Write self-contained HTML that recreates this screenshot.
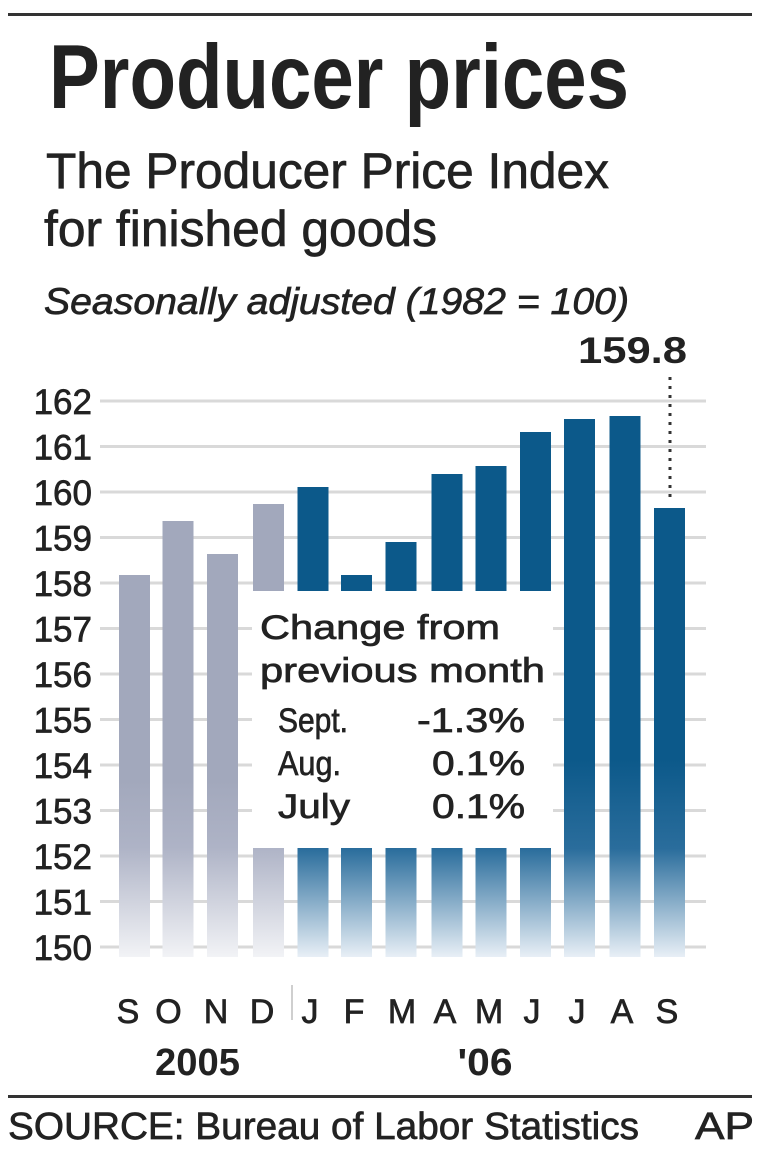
<!DOCTYPE html>
<html>
<head>
<meta charset="utf-8">
<style>
html,body{margin:0;padding:0;background:#fff;}
svg{display:block;}
text{font-family:"Liberation Sans",Arial,sans-serif;fill:#222;}
.w{stroke:#222;stroke-width:0.7px;}
</style>
</head>
<body>
<svg width="760" height="1159" viewBox="0 0 760 1159" xmlns="http://www.w3.org/2000/svg">
<defs>
  <linearGradient id="gBlue" gradientUnits="userSpaceOnUse" x1="0" y1="760" x2="0" y2="957">
    <stop offset="0" stop-color="#0c598a"/>
    <stop offset="0.45" stop-color="#2a6d9c"/>
    <stop offset="1" stop-color="#e8eff6"/>
  </linearGradient>
  <linearGradient id="gGray" gradientUnits="userSpaceOnUse" x1="0" y1="780" x2="0" y2="957">
    <stop offset="0" stop-color="#a2a8bc"/>
    <stop offset="0.38" stop-color="#aeb3c6"/>
    <stop offset="1" stop-color="#f2f3f6"/>
  </linearGradient>
</defs>

<!-- top rule -->
<rect x="8" y="13" width="744" height="3" fill="#333"/>

<!-- titles -->
<text x="49" y="108" font-size="91" font-weight="bold" textLength="580" lengthAdjust="spacingAndGlyphs" fill="#1e1e1e">Producer prices</text>
<text class="w" x="46" y="188" font-size="50" textLength="563" lengthAdjust="spacingAndGlyphs">The Producer Price Index</text>
<text class="w" x="44" y="246" font-size="50" textLength="393" lengthAdjust="spacingAndGlyphs">for finished goods</text>
<text class="w" x="44" y="314" font-size="37" font-style="italic" textLength="585" lengthAdjust="spacingAndGlyphs">Seasonally adjusted (1982 = 100)</text>

<!-- gridlines -->
<g stroke="#d9d9d9" stroke-width="3">
  <line x1="100" y1="401" x2="706" y2="401"/>
  <line x1="100" y1="446.5" x2="706" y2="446.5"/>
  <line x1="100" y1="492" x2="706" y2="492"/>
  <line x1="100" y1="537.5" x2="706" y2="537.5"/>
  <line x1="100" y1="583" x2="706" y2="583"/>
  <line x1="100" y1="628.5" x2="706" y2="628.5"/>
  <line x1="100" y1="674" x2="706" y2="674"/>
  <line x1="100" y1="719.5" x2="706" y2="719.5"/>
  <line x1="100" y1="765" x2="706" y2="765"/>
  <line x1="100" y1="810.5" x2="706" y2="810.5"/>
  <line x1="100" y1="856" x2="706" y2="856"/>
  <line x1="100" y1="901.5" x2="706" y2="901.5"/>
  <line x1="100" y1="947" x2="706" y2="947"/>
</g>

<!-- y labels -->
<g font-size="35" text-anchor="end" class="w">
  <text x="92" y="414">162</text>
  <text x="92" y="459.5">161</text>
  <text x="92" y="505">160</text>
  <text x="92" y="550.5">159</text>
  <text x="92" y="596">158</text>
  <text x="92" y="641.5">157</text>
  <text x="92" y="687">156</text>
  <text x="92" y="732.5">155</text>
  <text x="92" y="778">154</text>
  <text x="92" y="823.5">153</text>
  <text x="92" y="869">152</text>
  <text x="92" y="914.5">151</text>
  <text x="92" y="960">150</text>
</g>

<!-- continuous gray bars S O N -->
<rect x="119" y="575" width="31" height="382" fill="url(#gGray)"/>
<rect x="162.5" y="521" width="31" height="436" fill="url(#gGray)"/>
<rect x="207" y="554" width="31" height="403" fill="url(#gGray)"/>

<!-- broken D (gray) -->
<rect x="253" y="504" width="31" height="87" fill="#a2a8bc"/>
<rect x="253" y="848" width="31" height="109" fill="url(#gGray)"/>

<!-- broken blue J F M A M J -->
<rect x="297.5" y="487" width="31" height="104" fill="#0c598a"/>
<rect x="297.5" y="848" width="31" height="109" fill="url(#gBlue)"/>
<rect x="341" y="575" width="31" height="16" fill="#0c598a"/>
<rect x="341" y="848" width="31" height="109" fill="url(#gBlue)"/>
<rect x="385.5" y="542" width="31" height="49" fill="#0c598a"/>
<rect x="385.5" y="848" width="31" height="109" fill="url(#gBlue)"/>
<rect x="431.5" y="474" width="31" height="117" fill="#0c598a"/>
<rect x="431.5" y="848" width="31" height="109" fill="url(#gBlue)"/>
<rect x="475.5" y="466" width="31" height="125" fill="#0c598a"/>
<rect x="475.5" y="848" width="31" height="109" fill="url(#gBlue)"/>
<rect x="520" y="432" width="31" height="159" fill="#0c598a"/>
<rect x="520" y="848" width="31" height="109" fill="url(#gBlue)"/>

<!-- continuous blue J A S -->
<rect x="564" y="419" width="31" height="538" fill="url(#gBlue)"/>
<rect x="609.5" y="416" width="31" height="541" fill="url(#gBlue)"/>
<rect x="654" y="508" width="31" height="449" fill="url(#gBlue)"/>

<!-- white box behind legend -->
<rect x="252" y="592" width="301" height="254" fill="#fff"/>

<!-- legend -->
<g font-size="34" class="w">
  <text x="260" y="639" textLength="240" lengthAdjust="spacingAndGlyphs">Change from</text>
  <text x="260" y="682" textLength="285" lengthAdjust="spacingAndGlyphs">previous month</text>
  <text x="278" y="732" textLength="70" lengthAdjust="spacingAndGlyphs">Sept.</text>
  <text x="525" y="732" text-anchor="end" textLength="108" lengthAdjust="spacingAndGlyphs">-1.3%</text>
  <text x="278" y="775" textLength="63" lengthAdjust="spacingAndGlyphs">Aug.</text>
  <text x="525" y="775" text-anchor="end" textLength="93" lengthAdjust="spacingAndGlyphs">0.1%</text>
  <text x="278" y="818" textLength="72" lengthAdjust="spacingAndGlyphs">July</text>
  <text x="525" y="818" text-anchor="end" textLength="93" lengthAdjust="spacingAndGlyphs">0.1%</text>
</g>

<!-- 159.8 annotation -->
<text x="578" y="363" font-size="37" font-weight="bold" textLength="109" lengthAdjust="spacingAndGlyphs">159.8</text>
<line x1="670" y1="377" x2="670" y2="500" stroke="#333" stroke-width="3" stroke-dasharray="3 6"/>

<!-- month labels -->
<g font-size="34" text-anchor="middle" class="w">
  <text x="128" y="1023">S</text>
  <text x="168.5" y="1023">O</text>
  <text x="216" y="1023">N</text>
  <text x="262" y="1023">D</text>
  <text x="310" y="1023">J</text>
  <text x="354" y="1023">F</text>
  <text x="402" y="1023">M</text>
  <text x="445" y="1023">A</text>
  <text x="489" y="1023">M</text>
  <text x="532" y="1023">J</text>
  <text x="577" y="1023">J</text>
  <text x="622" y="1023">A</text>
  <text x="667" y="1023">S</text>
</g>
<line x1="292" y1="985" x2="292" y2="1020" stroke="#cfcfcf" stroke-width="2"/>
<text x="197.5" y="1075" font-size="38" font-weight="bold" text-anchor="middle" textLength="85" lengthAdjust="spacingAndGlyphs">2005</text>
<text x="485" y="1075" font-size="38" font-weight="bold" text-anchor="middle" textLength="55" lengthAdjust="spacingAndGlyphs">'06</text>

<!-- footer -->
<rect x="8" y="1095" width="744" height="3" fill="#333"/>
<text class="w" x="8" y="1139" font-size="38" textLength="631" lengthAdjust="spacingAndGlyphs">SOURCE: Bureau of Labor Statistics</text>
<text class="w" x="695" y="1139" font-size="38" textLength="59" lengthAdjust="spacingAndGlyphs">AP</text>
</svg>
</body>
</html>
